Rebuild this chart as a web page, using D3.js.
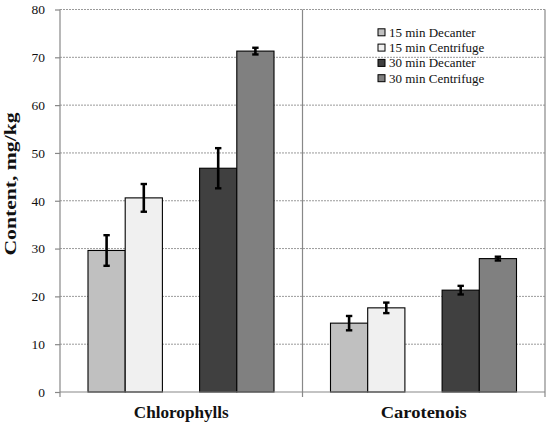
<!DOCTYPE html>
<html>
    <head>
        <meta charset="utf-8" />
        <script src="https://d3js.org/d3.v7.min.js"></script>
        <style type="text/css">
            body {
                margin: 0;
                background: #ffffff;
            }
            svg#mainSvg {
                width: 550px;
                height: 428px;
                display: block;
                font-family: "Liberation Serif", "Times New Roman", serif;
            }
            .grid line {
                stroke: #9a9a9a;
                stroke-dasharray: 2, 1;
            }
            .frame {
                stroke: #888888;
                stroke-width: 1.2;
            }
        </style>
    </head>

    <body>
        <svg id="mainSvg"></svg>

        <script type="text/javascript">
            // Data
            const categories = ["Chlorophylls", "Carotenois"];
            const series = [
                "15 min Decanter",
                "15 min Centrifuge",
                "30 min Decanter",
                "30 min Centrifuge",
            ];
            // values[series][category]
            const values = [
                [29.6, 14.4],
                [40.6, 17.6],
                [46.8, 21.3],
                [71.3, 27.9],
            ];
            const errors = [
                [3.2, 1.5],
                [2.9, 1.1],
                [4.2, 0.9],
                [0.7, 0.4],
            ];
            const yTicks = [0, 10, 20, 30, 40, 50, 60, 70, 80];
            const colors = ["#c0c0c0", "#f0f0f0", "#404040", "#808080"];
            // slot of each series within a group (slot 2 is the gap)
            const slots = [0, 1, 3, 4];
        </script>

        <script type="text/javascript">
            const svg = d3.select("#mainSvg");
            const plotLeft = 60,
                plotRight = 545,
                plotTop = 9.5,
                plotBottom = 392;

            const x0 = d3
                .scaleBand()
                .domain(categories)
                .range([plotLeft, plotRight])
                .padding(0);
            const x1 = d3
                .scaleBand()
                .domain(d3.range(5))
                .range([28, x0.bandwidth() - 28.5])
                .padding(0);
            const y = d3
                .scaleLinear()
                .domain([0, 80])
                .range([plotBottom, plotTop]);

            // Horizontal dotted grid
            svg.append("g")
                .attr("class", "grid")
                .selectAll("line")
                .data(yTicks.filter((d) => d > 0))
                .enter()
                .append("line")
                .attr("x1", plotLeft)
                .attr("x2", plotRight)
                .attr("y1", (d) => y(d))
                .attr("y2", (d) => y(d));

            // Vertical separators between categories and right border
            svg.append("g")
                .selectAll("line")
                .data(categories)
                .enter()
                .append("line")
                .attr("class", "frame")
                .attr("x1", (d) => x0(d) + x0.bandwidth())
                .attr("x2", (d) => x0(d) + x0.bandwidth())
                .attr("y1", y(80))
                .attr("y2", plotBottom + 5);

            // Bars
            const groups = svg
                .append("g")
                .selectAll("g")
                .data(categories)
                .enter()
                .append("g")
                .attr("transform", (d) => "translate(" + x0(d) + ",0)");

            const rowsOf = (c, ci) =>
                series.map((s, si) => ({
                    si: si,
                    v: values[si][ci],
                    e: errors[si][ci],
                }));

            groups
                .selectAll("rect")
                .data(rowsOf)
                .enter()
                .append("rect")
                .attr("x", (d) => x1(slots[d.si]))
                .attr("width", x1.bandwidth())
                .attr("y", (d) => y(d.v))
                .attr("height", (d) => y(0) - y(d.v))
                .style("fill", (d) => colors[d.si])
                .style("stroke", "#000")
                .style("stroke-width", 1.1);

            // Error bars
            const err = groups
                .selectAll("g.err")
                .data(rowsOf)
                .enter()
                .append("g")
                .attr("class", "err")
                .attr(
                    "transform",
                    (d) =>
                        "translate(" +
                        (x1(slots[d.si]) + x1.bandwidth() / 2) +
                        ",0)"
                );
            err.append("line")
                .attr("y1", (d) => y(d.v + d.e))
                .attr("y2", (d) => y(d.v - d.e))
                .style("stroke", "#000")
                .style("stroke-width", 2.6);
            err.selectAll("line.cap")
                .data((d) => [d.v + d.e, d.v - d.e])
                .enter()
                .append("line")
                .attr("class", "cap")
                .attr("x1", -3.2)
                .attr("x2", 3.2)
                .attr("y1", (d) => y(d))
                .attr("y2", (d) => y(d))
                .style("stroke", "#000")
                .style("stroke-width", 2.4);

            // Y axis
            const yAxis = svg
                .append("g")
                .attr("transform", "translate(" + plotLeft + ",0)")
                .call(
                    d3
                        .axisLeft(y)
                        .tickValues(yTicks)
                        .tickSize(5)
                        .tickPadding(10)
                );
            yAxis
                .select(".domain")
                .attr("stroke", "#888")
                .attr("stroke-width", 1.2)
                .attr("d", "M0," + plotTop + "V" + (plotBottom + 5));
            yAxis
                .selectAll(".tick line")
                .attr("stroke", "#888")
                .attr("stroke-width", 1.2);
            yAxis
                .selectAll(".tick text")
                .style("font-family", "Liberation Serif, serif")
                .style("font-size", "13.5px")
                .style("fill", "#111");

            // X axis baseline
            svg.append("line")
                .attr("class", "frame")
                .attr("x1", plotLeft)
                .attr("x2", plotRight)
                .attr("y1", plotBottom)
                .attr("y2", plotBottom);

            // Category labels
            svg.append("g")
                .selectAll("text")
                .data(categories)
                .enter()
                .append("text")
                .attr("x", (d) => x0(d) + x0.bandwidth() / 2)
                .attr("y", 418)
                .attr("text-anchor", "middle")
                .attr("textLength", (d) => (d === "Chlorophylls" ? 95 : 86))
                .attr("lengthAdjust", "spacingAndGlyphs")
                .style("font-weight", "bold")
                .style("font-size", "16.5px")
                .style("fill", "#111")
                .text((d) => d);

            // Y axis title
            svg.append("text")
                .attr("transform", "translate(16,184) rotate(-90)")
                .attr("text-anchor", "middle")
                .attr("textLength", 143)
                .attr("lengthAdjust", "spacingAndGlyphs")
                .style("font-weight", "bold")
                .style("font-size", "17px")
                .style("fill", "#111")
                .text("Content, mg/kg");

            // Legend
            const legend = svg
                .append("g")
                .selectAll("g")
                .data(series)
                .enter()
                .append("g")
                .attr(
                    "transform",
                    (d, i) => "translate(378," + (32.3 + i * 15.3) + ")"
                );
            legend
                .append("rect")
                .attr("x", 0)
                .attr("y", -3.5)
                .attr("width", 7)
                .attr("height", 7)
                .style("fill", (d, i) => colors[i])
                .style("stroke", "#000")
                .style("stroke-width", 1);
            legend
                .append("text")
                .attr("x", 11)
                .attr("y", 4.5)
                .style("font-size", "13px")
                .style("fill", "#111")
                .text((d) => d);
        </script>
    </body>
</html>
